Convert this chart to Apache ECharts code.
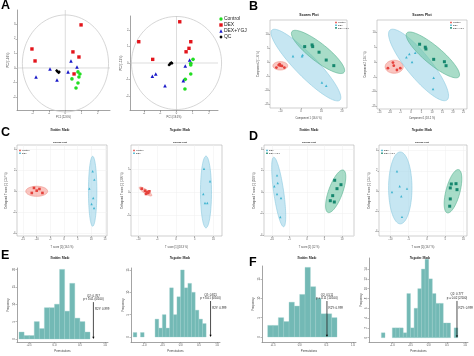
<!DOCTYPE html>
<html><head><meta charset="utf-8">
<script src="https://cdn.jsdelivr.net/npm/echarts@6/dist/echarts.min.js"></script>
<style>html,body{margin:0;padding:0;background:#fff}#c{width:474px;height:356px}</style>
</head><body><div id="c"></div>
<script>
// ================= DATA =================
// Panel A : PCA score plots (x = PC1, y = PC2)
const aLeftControl = [[0.78,-0.27],[0.90,-0.41],[0.84,-0.62],[0.41,-0.75],[0.78,-1.03],[0.66,-1.37]];
const aLeftDEX     = [[0.97,2.95],[-2.05,1.30],[-1.86,0.48],[0.47,1.10],[0.84,0.75],[0.54,-0.41]];
const aLeftDEXYGJ  = [[0.35,0.48],[0.72,0.07],[-0.94,-0.07],[-1.80,-0.62],[-0.51,-0.82],[0.17,-0.27]];
const aLeftQC      = [[-0.53,-0.18],[-0.47,-0.25],[-0.41,-0.32],[-0.37,-0.27],[-0.49,-0.23]];
const aRightControl = [[1.02,0.22],[0.88,-0.02],[0.88,-0.12],[0.88,-0.67],[0.54,-0.99],[0.52,-1.58]];
const aRightDEX     = [[0.20,2.50],[-2.33,1.29],[-1.47,0.22],[0.88,1.29],[0.77,0.89],[0.59,0.68]];
const aRightDEXYGJ  = [[0.81,0.18],[0.54,-0.18],[-1.28,-0.67],[-1.49,-0.80],[0.42,-1.07],[-0.71,-1.38]];
const aRightQC      = [[-0.46,-0.12],[-0.38,-0.02],[-0.32,0.02],[-0.42,-0.08],[-0.28,-0.02]];
// Hotelling T2 ellipses: [cx, cy, ux, uy, vx, vy]
const aLeftT2  = [[0.01,0.31,2.65,0,0,3.32]];
const aRightT2 = [[0,0,2.78,0,0,2.82]];
const aOrigin = [[0,0]];
const aTicksX = [-2,-1,0,1,2];
const aLeftTicksY = [-2,-1,0,1,2,3];
const aRightTicksY = [-2,-1,0,1,2];

// Panel B : PLS-DA scores
const bLeftControl = [[-12.0,-2.0],[-10.9,-1.1],[-10.1,-1.3],[-9.3,-1.4],[-8.1,-2.0],[-10.4,-0.8]];
const bLeftDEX     = [[-3.9,2.1],[0.5,2.1],[0.8,2.5],[10.2,-7.3],[12.3,-8.5]];
const bLeftDEXYGJ  = [[1.8,5.5],[5.4,6.1],[5.7,5.5],[8.8,3.5],[12.3,0.7],[16.0,-1.3]];
const bLeftEllipses = [[-10.1,-1.36,3.6,0,0,1.5],[2.4,-1.1,16.6,-12.5,3.8,2.75],[8.3,3.6,12.7,-7.3,2.7,2.5]];
const bRightControl = [[-11.0,-2.1],[-8.6,-0.2],[-8.2,-1.25],[-6.7,-2.7],[-5.1,-2.1]];
const bRightDEX     = [[-2.2,1.6],[-0.8,2.7],[0.5,0],[2.0,3.1],[10.8,-5.3],[10.5,-9.1]];
const bRightDEXYGJ  = [[4.1,6.0],[6.8,5.0],[7.1,4.4],[10.8,0.9],[15.9,0.1],[16.7,-1.25]];
const bRightEllipses = [[-8.0,-1.6,4.3,0,0,2.2],[3.6,-1.0,13.6,-11.8,4.4,2.6],[10.4,2.4,12.4,-7.4,2.8,2.3]];

// Panel C : OPLS-DA Control vs DEX
const cLeftControl = [[-11.8,-0.19],[-11.0,0.29],[-10.0,0.03],[-9.0,0.19],[-7.9,-0.19]];
const cLeftDEX     = [[10.5,1.88],[11.1,1.08],[9.3,0.22],[10.7,-0.67],[10.1,-1.24],[11.0,-1.62]];
const cLeftEllipses = [[-10.0,-0.03,4.0,0,0,0.48],[10.5,-0.03,1.54,0,0,3.33]];
const cRightControl = [[-9.15,0.72],[-8.27,0.28],[-7.8,0],[-7.4,-0.22],[-8.0,-0.43],[-7.1,0.15]];
const cRightDEX     = [[7.47,5.07],[9.07,2.33],[7.28,-0.43],[7.73,-2.39],[8.35,-2.39]];
const cRightEllipses = [[-8.13,0.11,1.65,-0.91,-0.3,-0.36],[8.0,0,1.47,0,0,7.8]];

// Panel D : OPLS-DA DEX vs DEX+YGJ
const dLeftDEX    = [[-8.57,1.55],[-8.37,0.84],[-9.34,0.53],[-8.57,-0.19],[-7.43,-0.56],[-7.63,-2.33]];
const dLeftDEXYGJ = [[7.91,1.09],[9.71,0.68],[8.57,0.31],[7.34,-0.34],[6.66,-0.81],[7.8,-0.93]];
const dLeftEllipses = [[-8.09,0,-1.43,3.23,1.41,0.066],[8.2,0.065,2.19,1.97,1.88,-0.22]];
const dRightDEX    = [[-8.22,1.95],[-9.59,-0.1],[-7.48,0.47],[-5.48,0.23],[-7.04,-0.52],[-6.85,-2.57]];
const dRightDEXYGJ = [[6.38,0.3],[7.95,0.72],[6.66,0.69],[8.22,0.13],[6.38,-0.79],[6.22,-1.51]];
const dRightEllipses = [[-7.32,0.3,3.2,0,0,3.56],[7.12,-0.03,1.56,2.14,1.85,-0.18]];

// Panels E, F : permutation histograms (bin left edge, frequency), bin width 0.1
const binWidth = 0.1;
const eLeftBins   = [-0.7,-0.6,-0.5,-0.4,-0.3,-0.2,-0.1,0.0,0.1,0.2,0.3,0.4,0.5,0.6];
const eLeftCounts = [2,1,1,5,3,9,9,10,20,8,16,6,5,2];
const eRightBins   = [-1.3,-1.1,-0.7,-0.6,-0.5,-0.4,-0.3,-0.2,-0.1,0.0,0.1,0.2,0.3,0.4,0.5,0.6];
const eRightCounts = [1,1,4,2,5,2,11,5,9,15,11,12,10,6,4,3];
const fLeftBins   = [-0.6,-0.5,-0.4,-0.3,-0.2,-0.1,0.0,0.1,0.2,0.3,0.4,0.5,0.6];
const fLeftCounts = [3,3,5,4,9,8,11,18,13,10,6,6,5];
const fRightBins   = [-1.3,-1.0,-0.9,-0.8,-0.7,-0.6,-0.5,-0.4,-0.3,-0.2,-0.1,0.0,0.1,0.2,0.3,0.4,0.5,0.7];
const fRightCounts = [1,2,2,2,1,9,2,6,10,14,16,12,9,7,7,3,3,2];
const q2Values = [0.767, 0.821, 0.511, 0.777];
const q2Labels = ['Q2: 0.767\np < 0.01 (0/100)','Q2: 0.821\np < 0.01 (0/100)','Q2: 0.511\np = 0.11 (11/100)','Q2: 0.777\np = 0.02 (2/100)'];
const r2yLabels = ['R2Y: 0.999','R2Y: 0.999','R2Y: 0.999','R2Y: 0.999'];
const histTicksX1 = [-0.5,0,0.5,1];
const histTicksX2 = [-1,-0.5,0,0.5,1];

// ================= BUILD =================
const FONT = 'Liberation Sans, Arial, sans-serif';
const SERIF = 'Liberation Serif, Times New Roman, serif';
const grids = [], xAxes = [], yAxes = [], series = [], graphics = [];

const COL = {
  aGreen:'#22DD22', aRed:'#E3141B', aBlue:'#1A1AC8', aBlack:'#000000',
  ctrl:'#E5413B', dex:'#3DB3CF', ygj:'#15876E'
};
const ELL = {
  ctrl:{fill:'rgba(246,150,140,0.55)', stroke:'#EF8F85'},
  dex:{fill:'rgba(160,214,234,0.6)', stroke:'#8CC9DF'},
  ygj:{fill:'rgba(110,196,164,0.6)', stroke:'#55B08F'}
};

function addPanel(p){
  const gi = grids.length;
  grids.push({left:p.left, top:p.top, width:p.width, height:p.height,
    show: !!p.box, borderColor:'#b0b0b0', borderWidth:0.6, backgroundColor:'rgba(0,0,0,0)'});
  const tickStyle = {color:'#777', width:0.5};
  const lineStyle = {color:'#666', width:0.6};
  const fs = p.fs || 2.8;
  xAxes.push({gridIndex:gi, type:'value', min:p.xMin, max:p.xMax,
    axisLine:{show:!p.box, onZero:false, lineStyle},
    axisTick:{show:true, length:1.5, customValues:p.xTicks, lineStyle:tickStyle},
    axisLabel:{show:true, customValues:p.xTicks, fontSize:fs, margin:p.xm || 1.5, color:'#555', fontFamily:FONT,
      formatter: p.fmt1 ? (v => Number(v).toFixed(1)) : null},
    splitLine:{show:!!p.split, lineStyle:{color:'#efefef', width:0.5}},
    name:p.xName, nameLocation:'middle', nameGap:p.xNameGap,
    nameTextStyle:{fontSize:fs, color:'#444', fontFamily:FONT}});
  yAxes.push({gridIndex:gi, type:'value', min:p.yMin, max:p.yMax,
    axisLine:{show:!p.box, onZero:false, lineStyle},
    axisTick:{show:true, length:1.5, customValues:p.yTicks, lineStyle:tickStyle},
    axisLabel:{show:true, customValues:p.yTicks, fontSize:fs, margin:p.ym || 1.5, color:'#555', fontFamily:FONT,
      rotate:p.yRot || 0},
    splitLine:{show:!!p.split, lineStyle:{color:'#efefef', width:0.5}},
    name:p.yName, nameLocation:'middle', nameGap:p.yNameGap,
    nameTextStyle:{fontSize:fs, color:'#444', fontFamily:FONT}});
  return gi;
}

function scatter(gi, data, color, symbol, size){
  series.push({type:'scatter', xAxisIndex:gi, yAxisIndex:gi, data, symbol, symbolSize:size,
    itemStyle:{color, opacity:1}, z:4, silent:true});
}

// crosshair through the origin spanning the whole plotting area
function crosshair(gi, origin){
  series.push({type:'custom', xAxisIndex:gi, yAxisIndex:gi, data:origin, z:1, silent:true, clip:false,
    renderItem(params, api){
      const o = api.coord([api.value(0), api.value(1)]);
      const cs = params.coordSys;
      const st = {stroke:'#c6c6c6', lineWidth:0.6};
      return {type:'group', children:[
        {type:'line', shape:{x1:cs.x, y1:o[1], x2:cs.x+cs.width, y2:o[1]}, style:st},
        {type:'line', shape:{x1:o[0], y1:cs.y, x2:o[0], y2:cs.y+cs.height}, style:st}
      ]};
    }});
}

function ellipses(gi, list, styles){
  series.push({type:'custom', xAxisIndex:gi, yAxisIndex:gi, data:list, z:2, silent:true, clip:false,
    renderItem(params, api){
      const cx=api.value(0), cy=api.value(1), ux=api.value(2), uy=api.value(3), vx=api.value(4), vy=api.value(5);
      const pts=[];
      for(let k=0;k<90;k++){
        const t=k/90*2*Math.PI;
        pts.push(api.coord([cx+ux*Math.cos(t)+vx*Math.sin(t), cy+uy*Math.cos(t)+vy*Math.sin(t)]));
      }
      const st = styles[params.dataIndex];
      return {type:'polygon', shape:{points:pts}, style:{fill:st.fill, stroke:st.stroke, lineWidth:st.lw || 0.6}};
    }});
}

function histogram(gi, bins, counts){
  series.push({type:'custom', xAxisIndex:gi, yAxisIndex:gi, silent:true, z:2,
    data: bins.map((b,i)=>[b, counts[i]]),
    renderItem(params, api){
      const a = api.coord([api.value(0), api.value(1)]);
      const b = api.coord([api.value(0)+binWidth, 0]);
      return {type:'rect', shape:{x:a[0], y:a[1], width:b[0]-a[0], height:b[1]-a[1]},
        style:{fill:'#73B9B5', stroke:'#9BCFCC', lineWidth:0.35}};
    }});
}

function arrow(gi, q2, topVal, label, r2y){
  series.push({type:'custom', xAxisIndex:gi, yAxisIndex:gi, silent:true, z:6, clip:false,
    data:[[q2, topVal]],
    renderItem(params, api){
      const top = api.coord([api.value(0), api.value(1)]);
      const bot = api.coord([api.value(0), 0]);
      const ts = {fontSize:2.9, fontFamily:FONT, fill:'#222', lineHeight:3.8};
      return {type:'group', children:[
        {type:'line', shape:{x1:top[0], y1:top[1], x2:bot[0], y2:bot[1]-1.8}, style:{stroke:'#000', lineWidth:0.7}},
        {type:'polygon', shape:{points:[[bot[0]-1.1,bot[1]-2.2],[bot[0]+1.1,bot[1]-2.2],[bot[0],bot[1]]]}, style:{fill:'#000'}},
        {type:'text', x:top[0], y:top[1]-0.6, style:Object.assign({text:label, textAlign:'center', align:'center',
          textVerticalAlign:'bottom', verticalAlign:'bottom'}, ts)},
        {type:'text', x:top[0]+1.6, y:top[1]+7, style:Object.assign({text:r2y, textAlign:'left', align:'left',
          textVerticalAlign:'middle', verticalAlign:'middle'}, ts)}
      ]};
    }});
}

function txt(x, y, text, opt){
  graphics.push({type:'text', x, y, silent:true, z:10,
    style:Object.assign({text, fill:'#111', fontSize:3, fontFamily:FONT,
      textAlign:'center', align:'center', textVerticalAlign:'middle', verticalAlign:'middle'}, opt || {})});
}

function shape(sym, x, y, s, color){
  const h = s/2;
  if (sym === 'circle') return {type:'circle', shape:{cx:x, cy:y, r:h}, style:{fill:color}, silent:true, z:10};
  if (sym === 'rect') return {type:'rect', shape:{x:x-h, y:y-h, width:s, height:s}, style:{fill:color}, silent:true, z:10};
  if (sym === 'triangle') return {type:'polygon', shape:{points:[[x,y-h],[x+h,y+h],[x-h,y+h]]}, style:{fill:color}, silent:true, z:10};
  return {type:'polygon', shape:{points:[[x,y-h],[x+h,y],[x,y+h],[x-h,y]]}, style:{fill:color}, silent:true, z:10};
}

function legendBlock(x, y, items, size, fs, gap){
  items.forEach((it, i) => {
    const cy = y + i*gap;
    graphics.push(shape(it.symbol, x, cy, size, it.color));
    txt(x + size*0.5 + 1.2, cy, it.name, {textAlign:'left', align:'left', fontSize:fs, fill:'#222'});
  });
}

function letter(x, y, t){
  txt(x, y, t, {textAlign:'left', align:'left', textVerticalAlign:'top', verticalAlign:'top',
    fontSize:12.5, fontWeight:'bold', fill:'#000', fontFamily:FONT});
}

// ---- Row A
let g;
g = addPanel({left:17, top:10, width:93, height:100, xMin:-2.97, xMax:2.75, yMin:-2.88, yMax:3.97,
  xTicks:aTicksX, yTicks:aLeftTicksY, xName:'PC1 (22.6%)', yName:'PC2 (15.6%)', xNameGap:4.6, yNameGap:4.8, fs:2.6});
crosshair(g, aOrigin);
ellipses(g, aLeftT2, [{fill:'rgba(0,0,0,0)', stroke:'#c4c4c4', lw:0.7}]);
scatter(g, aLeftQC, COL.aBlack, 'diamond', 3.2);
scatter(g, aLeftControl, COL.aGreen, 'circle', 3.6);
scatter(g, aLeftDEX, COL.aRed, 'rect', 3.4);
scatter(g, aLeftDEXYGJ, COL.aBlue, 'triangle', 3.6);

g = addPanel({left:130, top:16, width:88, height:94, xMin:-2.87, xMax:2.56, yMin:-2.85, yMax:2.85,
  xTicks:aTicksX, yTicks:aRightTicksY, xName:'PC1 (19.5%)', yName:'PC2 (12.3%)', xNameGap:4.6, yNameGap:4.8, fs:2.6});
crosshair(g, aOrigin);
ellipses(g, aRightT2, [{fill:'rgba(0,0,0,0)', stroke:'#c4c4c4', lw:0.7}]);
scatter(g, aRightQC, COL.aBlack, 'diamond', 3.2);
scatter(g, aRightControl, COL.aGreen, 'circle', 3.6);
scatter(g, aRightDEX, COL.aRed, 'rect', 3.4);
scatter(g, aRightDEXYGJ, COL.aBlue, 'triangle', 3.6);

legendBlock(221, 19, [
  {name:'Control', color:COL.aGreen, symbol:'circle'},
  {name:'DEX', color:COL.aRed, symbol:'rect'},
  {name:'DEX+YGJ', color:COL.aBlue, symbol:'triangle'},
  {name:'QC', color:COL.aBlack, symbol:'diamond'}], 3.4, 5, 6);

// ---- Row B
g = addPanel({left:270, top:20, width:77, height:88, xMin:-15.12, xMax:22.44, yMin:-16.43, yMax:15,
  xTicks:[-10,0,10,20], yTicks:[-15,-10,-5,0,5,10], xName:'Component 1 (16.6 %)', yName:'Component 2 (11.6 %)',
  xNameGap:9, yNameGap:10, box:true, fs:2.6});
ellipses(g, bLeftEllipses, [ELL.ctrl, ELL.dex, ELL.ygj]);
scatter(g, bLeftControl, COL.ctrl, 'circle', 2.8);
scatter(g, bLeftDEX, COL.dex, 'triangle', 2.6);
scatter(g, bLeftDEXYGJ, COL.ygj, 'rect', 3.0);

g = addPanel({left:377, top:20, width:90, height:89, xMin:-16.19, xMax:26.67, yMin:-15.88, yMax:14.19,
  xTicks:[-15,-10,-5,0,5,10,15,20,25], yTicks:[-15,-10,-5,0,5,10], xName:'Component 1 (18.2 %)', yName:'Component 2 (10.4 %)',
  xNameGap:8, yNameGap:10, box:true, fs:2.6});
ellipses(g, bRightEllipses, [ELL.ctrl, ELL.dex, ELL.ygj]);
scatter(g, bRightControl, COL.ctrl, 'circle', 2.8);
scatter(g, bRightDEX, COL.dex, 'triangle', 2.6);
scatter(g, bRightDEXYGJ, COL.ygj, 'rect', 3.0);

const legB = [{name:'Control', color:COL.ctrl, symbol:'rect'},{name:'DEX', color:COL.dex, symbol:'rect'},{name:'DEX+YGJ', color:COL.ygj, symbol:'rect'}];
legendBlock(336, 22.5, legB, 1.6, 2.3, 2.7);
legendBlock(451, 22.5, legB, 1.6, 2.3, 2.7);
txt(309, 15, 'Scores Plot', {fontSize:3.5, fontWeight:'bold'});
txt(422, 15, 'Scores Plot', {fontSize:3.5, fontWeight:'bold'});

// ---- Row C
g = addPanel({left:17, top:145, width:90, height:91, xMin:-17.22, xMax:15.75, yMin:-4.29, yMax:4.38,
  xTicks:[-15,-10,-5,0,5,10,15], yTicks:[-4,-2,0,2,4], xName:'T score [1] (16.5 %)', yName:'Orthogonal T score [1] (13.7 %)',
  xNameGap:9.5, yNameGap:9.5, box:true, split:true, fs:2.6});
ellipses(g, cLeftEllipses, [ELL.ctrl, ELL.dex]);
scatter(g, cLeftControl, COL.ctrl, 'rect', 2.6);
scatter(g, cLeftDEX, COL.dex, 'triangle', 2.4);

g = addPanel({left:131, top:145, width:91, height:91, xMin:-12, xMax:12.27, yMin:-9.57, yMax:10.22,
  xTicks:[-10,-5,0,5,10], yTicks:[-5,0,5], xName:'T score [1] (18.3 %)', yName:'Orthogonal T score [1] (10.6 %)',
  xNameGap:9.5, yNameGap:6.5, box:true, split:true, fs:2.6});
ellipses(g, cRightEllipses, [ELL.ctrl, ELL.dex]);
scatter(g, cRightControl, COL.ctrl, 'rect', 2.6);
scatter(g, cRightDEX, COL.dex, 'triangle', 2.4);

const legC = [{name:'Control', color:COL.ctrl, symbol:'rect'},{name:'DEX', color:COL.dex, symbol:'rect'}];
legendBlock(20, 150.5, legC, 1.6, 2.3, 2.7);
legendBlock(134, 150.5, legC, 1.6, 2.3, 2.7);

// ---- Row D
g = addPanel({left:264, top:145, width:90, height:91, xMin:-12.29, xMax:13.43, yMin:-4.09, yMax:4.37,
  xTicks:[-10,-5,0,5,10], yTicks:[-4,-2,0,2,4], xName:'T score [1] (12 %)', yName:'Orthogonal T score [1] (20.9 %)',
  xNameGap:9.5, yNameGap:8.5, box:true, split:true, fs:2.6});
ellipses(g, dLeftEllipses, [ELL.dex, ELL.ygj]);
scatter(g, dLeftDEX, COL.dex, 'triangle', 2.4);
scatter(g, dLeftDEXYGJ, COL.ygj, 'rect', 3.0);

g = addPanel({left:379, top:145, width:88, height:91, xMin:-13.15, xMax:10.96, yMin:-4.46, yMax:4.55,
  xTicks:[-10,-5,0,5,10], yTicks:[-4,-2,0,2,4], xName:'T score [1] (16.7 %)', yName:'Orthogonal T score [1] (15.4 %)',
  xNameGap:9.5, yNameGap:8.5, box:true, split:true, fs:2.6});
ellipses(g, dRightEllipses, [ELL.dex, ELL.ygj]);
scatter(g, dRightDEX, COL.dex, 'triangle', 2.4);
scatter(g, dRightDEXYGJ, COL.ygj, 'rect', 3.0);

const legD = [{name:'DEX', color:COL.dex, symbol:'rect'},{name:'DEX+YGJ', color:COL.ygj, symbol:'rect'}];
legendBlock(267, 150.5, legD, 1.6, 2.3, 2.7);
legendBlock(382, 150.5, legD, 1.6, 2.3, 2.7);

[[60,'Positive Mode'],[180,'Negative Mode'],[309,'Positive Mode'],[422,'Negative Mode']].forEach(([x,t]) => {
  txt(x, 130, t, {fontSize:3.2, fontWeight:'bold', fontFamily:SERIF});
  txt(x, 142, 'Scores Plot', {fontSize:2.5, fontWeight:'bold'});
});

// ---- Row E, F
g = addPanel({left:17, top:268, width:91, height:74, xMin:-0.74, xMax:1.055, yMin:-0.86, yMax:20.4,
  xTicks:histTicksX1, yTicks:[0,5,10,15,20], xName:'Permutations', yName:'Frequency', xNameGap:8, yNameGap:7,
  fmt1:true, yRot:90, fs:2.8});
histogram(g, eLeftBins, eLeftCounts);
arrow(g, q2Values[0], 10.6, q2Labels[0], r2yLabels[0]);

g = addPanel({left:131, top:268, width:89, height:74, xMin:-1.36, xMax:1.08, yMin:-1.12, yMax:15.44,
  xTicks:histTicksX2, yTicks:[0,5,10,15], xName:'Permutations', yName:'Frequency', xNameGap:8, yNameGap:6,
  fmt1:true, yRot:90, fs:2.8});
histogram(g, eRightBins, eRightCounts);
arrow(g, q2Values[1], 8.05, q2Labels[1], r2yLabels[1]);

g = addPanel({left:262, top:266, width:94, height:76, xMin:-0.707, xMax:1.056, yMin:-1.29, yMax:18.35,
  xTicks:histTicksX1, yTicks:[0,5,10,15], xName:'Permutations', yName:'Frequency', xNameGap:8, yNameGap:7,
  fmt1:true, yRot:90, fs:2.8});
histogram(g, fLeftBins, fLeftCounts);
arrow(g, q2Values[2], 9.3, q2Labels[2], r2yLabels[2]);

g = addPanel({left:369, top:258, width:99, height:84, xMin:-1.64, xMax:1.08, yMin:-0.88, yMax:16.26,
  xTicks:histTicksX2, yTicks:[0,2,4,6,8,10,12,14], xName:'Permutations', yName:'Frequency', xNameGap:8, yNameGap:6,
  fmt1:true, yRot:90, fs:2.8});
histogram(g, fRightBins, fRightCounts);
arrow(g, q2Values[3], 7.5, q2Labels[3], r2yLabels[3]);

[[60,'Positive Mode'],[180,'Negative Mode'],[307,'Positive Mode'],[420,'Negative Mode']].forEach(([x,t]) => {
  txt(x, 258, t, {fontSize:3.2, fontWeight:'bold', fontFamily:SERIF});
});

// ---- panel letters
letter(1, -1, 'A'); letter(249, 0, 'B'); letter(1, 126, 'C');
letter(249, 130, 'D'); letter(1, 249, 'E'); letter(249, 256, 'F');

const chart = echarts.init(document.getElementById('c'), null, {renderer:'canvas', width:474, height:356});
chart.setOption({animation:false, backgroundColor:'#ffffff',
  grid:grids, xAxis:xAxes, yAxis:yAxes, series, graphic:{elements:graphics}});
</script>
</body></html>
